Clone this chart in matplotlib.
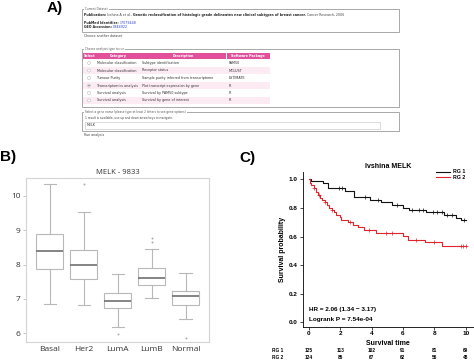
import matplotlib
matplotlib.use('Agg')
import matplotlib.pyplot as plt
import numpy as np
from matplotlib.patches import Rectangle, Circle
from matplotlib.lines import Line2D
from matplotlib.transforms import blended_transform_factory

W, H = 474, 361

# ---------------- data ----------------
pub_author = "Ivshina A et al., "
pub_title = "Genetic reclassification of histologic grade delineates new clinical subtypes of breast cancer."
pub_journal = " Cancer Research, 2006"
pubmed_id = "17079448"
geo_acc = "GSE4922"

table_header = ["Select", "Category", "Description", "Software Package"]
table_category = ["Molecular classification", "Molecular classification", "Tumour Purity",
                  "Transcriptomics analysis", "Survival analysis", "Survival analysis"]
table_description = ["Subtype identification", "Receptor status",
                     "Sample purity inferred from transcriptome",
                     "Plot transcript expression by gene", "Survival by PAM50 subtype",
                     "Survival by gene of interest"]
table_package = ["PAM50", "MCLUST", "ESTIMATE", "R", "R", "R"]
selected_row = 3
gene_name = "MELK"

box_title = "MELK - 9833"
box_categories = ["Basal", "Her2", "LumA", "LumB", "Normal"]
box_whislo = [6.85, 6.83, 6.19, 7.03, 6.41]
box_q1 = [7.87, 7.57, 6.75, 7.41, 6.83]
box_med = [8.40, 8.00, 6.95, 7.60, 7.09]
box_q3 = [8.89, 8.42, 7.16, 7.89, 7.22]
box_whishi = [10.35, 9.52, 7.72, 8.45, 7.75]
box_fliers = [[], [10.35], [5.98], [8.78, 8.65], [5.86]]
box_yticks = [6, 7, 8, 9, 10]

km_title = "Ivshina MELK"
rg1_time = [0, 0.1, 0.9, 1.2, 2.3, 2.9, 3.9, 4.6, 5.3, 6.0, 6.4, 7.5, 8.6, 9.4, 9.7, 10.0]
rg1_surv = [1.0, 0.985, 0.974, 0.939, 0.916, 0.874, 0.857, 0.841, 0.822, 0.80, 0.783, 0.769, 0.752, 0.729, 0.717, 0.717]
rg1_censor = [1.9, 2.1, 3.6, 4.4, 5.6, 6.6, 7.0, 7.3, 7.9, 8.2, 8.5, 8.8, 9.1, 9.9]
rg2_time = [0, 0.05, 0.15, 0.3, 0.45, 0.55, 0.7, 0.85, 1.0, 1.15, 1.3, 1.45, 1.6, 1.75,
            1.95, 2.05, 2.5, 2.8, 3.1, 3.5, 4.3, 6.0, 6.3, 7.4, 8.5, 10.0]
rg2_surv = [1.0, 0.975, 0.96, 0.94, 0.915, 0.892, 0.87, 0.857, 0.84, 0.822, 0.80, 0.787,
            0.77, 0.752, 0.735, 0.717, 0.70, 0.683, 0.664, 0.648, 0.624, 0.601, 0.578,
            0.561, 0.535, 0.535]
rg2_censor = [0.35, 0.65, 1.05, 1.5, 2.6, 3.8, 4.9, 5.3, 6.8, 8.0, 9.7, 9.85, 10.0]
km_groups = ["RG 1", "RG 2"]
km_colors = ["#111111", "#e3242b"]
hr_text = "HR = 2.06 (1.34 \u2212 3.17)"
logrank_text = "Logrank P = 7.54e-04"
risk_times = [0, 2, 4, 6, 8, 10]
risk_rg1 = [125, 113, 102, 91, 81, 69]
risk_rg2 = [124, 85, 67, 62, 56, 48]

# ---------------- figure ----------------
fig = plt.figure(figsize=(W / 100, H / 100), dpi=100)
bg = fig.add_axes([0, 0, 1, 1])
bg.set_xlim(0, W)
bg.set_ylim(H, 0)
bg.axis('off')

renderer = fig.canvas.get_renderer()
FA = 'DejaVu Sans'


def rect(x0, y0, x1, y1, **kw):
    bg.add_patch(Rectangle((x0, y0), x1 - x0, y1 - y0, **kw))


def chain(x, y, segs, size=2.3):
    for txt, weight, color in segs:
        t = bg.text(x, y, txt, fontsize=size, fontweight=weight, color=color,
                    va='center', ha='left', family=FA)
        bb = t.get_window_extent(renderer)
        x += bb.width
    return x


# panel labels
bg.text(47, 8, "A)", fontsize=11, fontweight='bold', va='center', ha='left', family='Liberation Sans')
bg.text(0, 157, "B)", fontsize=11, fontweight='bold', va='center', ha='left', family='Liberation Sans')
bg.text(239, 158, "C)", fontsize=11, fontweight='bold', va='center', ha='left', family='Liberation Sans')

# Current dataset fieldset
box_ec = '#9a9a9a'
rect(81.7, 9.3, 399, 31.7, fill=False, ec=box_ec, lw=0.6)
bg.text(84, 9.3, " Current Dataset ", fontsize=2.1, color='#555', va='center', family=FA,
        bbox=dict(fc='white', ec='none', pad=0))
chain(84, 15, [("Publication: ", 'bold', '#222'), (pub_author, 'normal', '#444'),
               (pub_title, 'bold', '#222'), (pub_journal, 'normal', '#444')])
x_end = chain(84, 23.3, [("PubMed Identifier: ", 'bold', '#222')])
t = bg.text(x_end, 23.3, pubmed_id, fontsize=2.3, color='#2a3fd6', va='center', family=FA)
x_end = chain(84, 26.7, [("GEO Accession: ", 'bold', '#222')])
bg.text(x_end, 26.7, geo_acc, fontsize=2.3, color='#2a3fd6', va='center', family=FA)
bg.text(84, 36, "Choose another dataset", fontsize=2.3, color='#444', va='center', family=FA)

# Analysis fieldset
rect(81.7, 49.3, 399, 107, fill=False, ec=box_ec, lw=0.6)
bg.text(84, 49.3, " Choose analysis type to run ", fontsize=2.1, color='#555', va='center', family=FA,
        bbox=dict(fc='white', ec='none', pad=0))
col_x = [83.5, 95.5, 140.5, 226.7, 270]
head_top, head_bot = 53.0, 58.6
header_color = '#e2509c'
for i in range(4):
    rect(col_x[i], head_top, col_x[i + 1] - 0.4, head_bot, fc=header_color, ec='none')
    bg.text((col_x[i] + col_x[i + 1]) / 2, (head_top + head_bot) / 2, table_header[i],
            fontsize=2.4, fontweight='bold', color='white', ha='center', va='center', family=FA)
row_y = [63.0, 70.5, 78.0, 85.6, 93.0, 100.4]
for i, yc in enumerate(row_y):
    if i % 2 == 1:
        rect(col_x[0], yc - 3.7, col_x[-1], yc + 3.7, fc='#fcebf3', ec='none')
    bg.add_patch(Circle((89, yc), 1.5, fc='white', ec='#bbbbbb', lw=0.4))
    if i == selected_row:
        bg.add_patch(Circle((89, yc), 0.6, fc='#444', ec='none'))
    bg.text(col_x[1] + 1.5, yc, table_category[i], fontsize=2.4, color='#333', va='center', family=FA)
    bg.text(col_x[2] + 1.5, yc, table_description[i], fontsize=2.4, color='#333', va='center', family=FA)
    bg.text(col_x[3] + 1.5, yc, table_package[i], fontsize=2.4, color='#333', va='center', family=FA)

# Gene fieldset
rect(81.7, 111.7, 399, 130.7, fill=False, ec=box_ec, lw=0.6)
bg.text(84, 111.7, " Select a gene name (please type at least 2 letters to see gene options) ",
        fontsize=2.1, color='#555', va='center', family=FA, bbox=dict(fc='white', ec='none', pad=0))
bg.text(85, 117.7, "1 result is available, use up and down arrow keys to navigate.",
        fontsize=2.1, color='#444', va='center', family=FA)
rect(85, 122, 380, 128.6, fc='white', ec='#cccccc', lw=0.5)
bg.text(86.5, 125.3, gene_name, fontsize=2.3, color='#333', va='center', family=FA)
bg.text(84, 135, "Run analysis", fontsize=2.3, color='#444', va='center', family=FA)

# ---------------- Panel B: boxplot ----------------
axB = fig.add_axes([26 / W, 1 - 341.7 / H, 183.3 / W, 164 / H])
stats = []
for i, c in enumerate(box_categories):
    stats.append(dict(label=c, med=box_med[i], q1=box_q1[i], q3=box_q3[i],
                      whislo=box_whislo[i], whishi=box_whishi[i], fliers=box_fliers[i]))
gray = '#b8b8b8'
axB.bxp(stats, positions=range(len(box_categories)), widths=0.8, capwidths=0.36,
        patch_artist=True,
        boxprops=dict(facecolor='white', edgecolor=gray, linewidth=0.8),
        whiskerprops=dict(color=gray, linewidth=0.8),
        capprops=dict(color=gray, linewidth=0.8),
        medianprops=dict(color='#707070', linewidth=1.2),
        flierprops=dict(marker='o', markersize=1.4, markerfacecolor='#aaaaaa',
                        markeredgecolor='none'))
axB.set_xlim(-0.7, 4.7)
axB.set_ylim(5.755, 10.53)
axB.set_yticks(box_yticks)
axB.set_yticklabels([str(v) for v in box_yticks])
axB.set_xticks(range(len(box_categories)))
axB.set_xticklabels(box_categories)
for sp in axB.spines.values():
    sp.set_color('#d4d4d4')
    sp.set_linewidth(0.8)
axB.tick_params(axis='y', length=2, width=0.6, color='#bbbbbb', pad=2, labelsize=6,
                labelcolor='#333333')
axB.tick_params(axis='x', length=0, pad=3, labelsize=6, labelcolor='#333333')
for lab in axB.get_xticklabels() + axB.get_yticklabels():
    lab.set_family('Open Sans')
axB.set_title(box_title, fontsize=5.5, color='#333333', pad=3, family='Open Sans')

# ---------------- Panel C: Kaplan-Meier ----------------
axC = fig.add_axes([302.7 / W, 1 - 326.6 / H, 170.8 / W, 154.4 / H])
groups = [(rg1_time, rg1_surv, rg1_censor), (rg2_time, rg2_surv, rg2_censor)]
for (tt, ss, cc), col, lab in zip(groups, km_colors, km_groups):
    tt = np.asarray(tt)
    ss = np.asarray(ss)
    axC.step(tt, ss, where='post', color=col, lw=0.8, label=lab)
    cc = np.asarray(cc)
    idx = np.searchsorted(tt, cc, side='right') - 1
    axC.plot(cc, ss[idx], linestyle='none', marker='+', markersize=3, mew=0.5, color=col)
axC.set_xlim(-0.4, 10.5)
axC.set_ylim(-0.03, 1.05)
axC.set_xticks(risk_times)
axC.set_yticks([0, 0.2, 0.4, 0.6, 0.8, 1.0])
axC.set_yticklabels(["0.0", "0.2", "0.4", "0.6", "0.8", "1.0"])
axC.spines['top'].set_visible(False)
axC.spines['right'].set_visible(False)
for s in ('left', 'bottom'):
    axC.spines[s].set_linewidth(0.6)
axC.tick_params(length=2, width=0.5, pad=1.5, labelsize=4.6)
for lab in axC.get_xticklabels() + axC.get_yticklabels():
    lab.set_family('Liberation Sans')
    lab.set_fontweight('bold')
axC.set_xlabel("Survival time", fontsize=5, fontweight='bold', family='Liberation Sans', va='center')
axC.xaxis.set_label_coords(0.501, -0.108)
axC.set_ylabel("Survival probability", fontsize=5, fontweight='bold', family='Liberation Sans',
               va='center')
axC.yaxis.set_label_coords(-0.117, 0.5)
axC.text(0.5, 1.04, km_title, transform=axC.transAxes, ha='center', va='center',
         fontsize=5, fontweight='bold', family='Liberation Sans')
axC.text(0.0, 0.108, hr_text, transform=blended_transform_factory(axC.transData, axC.transAxes),
         ha='left', va='center', fontsize=4.6, fontweight='bold', family='Liberation Sans')
axC.text(0.0, 0.043, logrank_text, transform=blended_transform_factory(axC.transData, axC.transAxes),
         ha='left', va='center', fontsize=4.6, fontweight='bold', family='Liberation Sans')
leg = axC.legend(loc='upper right', bbox_to_anchor=(0.97, 1.035), frameon=False,
                 prop=dict(family='Liberation Sans', weight='bold', size=3.8),
                 handlelength=2.6, handletextpad=0.6, labelspacing=0.15, borderpad=0)

trans = blended_transform_factory(axC.transData, fig.transFigure)
for yy, lab, vals in [(350.7, km_groups[0], risk_rg1), (357.7, km_groups[1], risk_rg2)]:
    fig.text(277.3 / W, 1 - yy / H, lab, ha='center', va='center', fontsize=3.4,
             fontweight='bold', family='Liberation Sans')
    for tval, n in zip(risk_times, vals):
        axC.text(tval, 1 - yy / H, str(n), transform=trans, ha='center', va='center',
                 fontsize=3.4, fontweight='bold', family='Liberation Sans')

fig.savefig('out.png', dpi=100)
